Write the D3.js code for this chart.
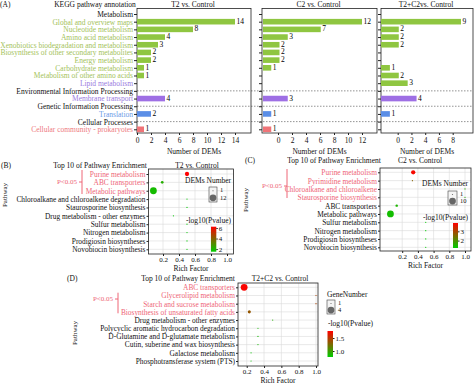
<!DOCTYPE html>
<html lang="en">
<head>
<meta charset="UTF-8">
<title>KEGG DEMs</title>
<script src="https://cdn.jsdelivr.net/npm/d3@7"></script>
<style>
	body { margin: 0; background: #fff; }
	text { font-family: "Liberation Serif", "Times New Roman", serif; }
</style>
</head>
<body>
<div id="container"></div>
<script>
var width = 474, height = 384;

// ---------- (A) KEGG annotation ----------
var keggRows = ["Metabolism", "Global and overview maps", "Nucleotide metabolism", "Amino acid metabolism",
	"Xenobiotics biodegradation and metabolism", "Biosynthesis of other secondary metabolites",
	"Energy metabolism", "Carbohydrate metabolism", "Metabolism of other amino acids", "Lipid metabolism",
	"Environmental Information Processing", "Membrane transport", "Genetic Information Processing",
	"Translation", "Cellular Processes", "Cellular community - prokaryotes"];
var keggKind = ["head", "met", "met", "met", "met", "met", "met", "met", "met", "lipid",
	"head", "env", "head", "gen", "head", "cell"];
var t2Counts   = [null, 14, 8, 4, 3, 2, 2, 1, 1, 0, null, 4, null, 2, null, 1];
var c2Counts   = [null, 12, 7, 3, 2, 2, 2, 1, 0, 0, null, 3, null, 1, null, 1];
var t2c2Counts = [null, 9, 2, 2, 2, 0, 0, 1, 2, 3, null, 4, null, 1, null, 0];
var t2Ticks = [0, 2, 4, 6, 8, 10, 12, 14];
var c2Ticks = [0, 2, 4, 6, 8, 10, 12];
var t2c2Ticks = [0, 2, 4, 6, 8];

// ---------- (B) T2 enrichment ----------
var bPaths = ["Purine metabolism", "ABC transporters", "Metabolic pathways",
	"Chloroalkane and chloroalkene degradation", "Staurosporine biosynthesis",
	"Drug metabolism - other enzymes", "Sulfur metabolism", "Nitrogen metabolism",
	"Prodigiosin biosyntheses", "Novobiocin biosynthesis"];
var bRich  = [0.5, 0.19, 0.08, 0.5, 0.5, 0.33, 0.5, 0.5, 0.5, 0.5];
var bCount = [7, 4, 12, 1, 1, 1, 1, 1, 1, 1];
var bLogP  = [6.3, 2.2, 1.9, 1.2, 1.2, 1.0, 1.0, 1.0, 1.0, 1.0];
var bColorTicks = [2, 4, 6];

// ---------- (C) C2 enrichment ----------
var cPaths = ["Purine metabolism", "Pyrimidine metabolism", "Chloroalkane and chloroalkene",
	"Staurosporine biosynthesis", "ABC transporters", "Metabolic pathways", "Sulfur metabolism",
	"Nitrogen metabolism", "Prodigiosin biosyntheses", "Novobiocin biosynthesis"];
var cRich  = [0.34, 0.33, 1.0, 1.0, 0.13, 0.05, 0.5, 0.5, 0.5, 0.5];
var cCount = [6, 1, 1, 1, 3, 10, 1, 1, 1, 1];
var cLogP  = [3.8, 2.6, 1.6, 1.6, 1.5, 1.4, 0.8, 0.8, 0.8, 0.8];
var cColorTicks = [2, 3];

// ---------- (D) T2+C2 enrichment ----------
var dPaths = ["ABC transporters", "Glycerolipid metabolism", "Starch and sucrose metabolism",
	"Biosynthesis of unsaturated fatty acids", "Drug metabolism - other enzymes",
	"Polycyclic aromatic hydrocarbon degradation", "D-Glutamine and D-glutamate metabolism",
	"Cutin, suberine and wax biosynthesis", "Galactose metabolism", "Phosphotransferase system (PTS)"];
var dRich  = [0.17, 1.0, 1.0, 0.23, 0.5, 0.33, 0.33, 0.33, 0.25, 0.25];
var dCount = [4, 1, 1, 2, 1, 1, 1, 1, 1, 1];
var dLogP  = [1.75, 1.45, 1.45, 1.35, 0.9, 0.85, 0.85, 0.85, 0.8, 0.8];
var dColorTicks = [1.0, 1.5];

var richTicks = [0.2, 0.4, 0.6, 0.8, 1.0];

var barColor = {met: "#8fc641", lipid: "#8fc641", env: "#9e6fe4", gen: "#5b8ee6", cell: "#f07478"};
var labelColor = {head: "#111", met: "#a3c25a", lipid: "#9a7be0", env: "#9a7be0", gen: "#6a9ae6", cell: "#ee7a80"};
var sigRed = "#ee6677";

var svg = d3.select("#container").append("svg")
	.attr("width", width)
	.attr("height", height)
	.style("background", "#fff");

function txt(x, y, s, size, anchor, color) {
	return svg.append("text")
		.attr("x", x).attr("y", y)
		.attr("text-anchor", anchor || "start")
		.attr("dominant-baseline", "middle")
		.style("font-size", size + "px")
		.style("fill", color || "#111")
		.text(s);
}

// ---------------- panel A ----------------
var boxTop = 8.5, boxBottom = 133;
var rowY = d3.scalePoint().domain(d3.range(keggRows.length)).range([14, 129.3]);

txt(0, 5, "(A)", 7.5);
txt(95, 5, "KEGG pathway annotation", 7.5, "middle");

var panelsA = [
	{title: "T2  vs.  Control", counts: t2Counts, ticks: t2Ticks, x0: 137, x1: 251,
		axisDom: [0, 14], axisRange: [137, 235], barDom: [0, 14], barRange: [137, 235], labels: true},
	{title: "C2  vs.  Control", counts: c2Counts, ticks: c2Ticks, x0: 262, x1: 377,
		axisDom: [0, 12], axisRange: [278, 362], barDom: [0, 12], barRange: [263, 362], labels: false},
	{title: "T2+C2vs.  Control", counts: t2c2Counts, ticks: t2c2Ticks, x0: 381, x1: 473,
		axisDom: [0, 8], axisRange: [397.7, 452.7], barDom: [0, 9], barRange: [381, 461], labels: false}
];

// dotted separators at category headers
[10, 12, 14].forEach(function(i) {
	svg.append("line")
		.attr("x1", 137).attr("x2", 473)
		.attr("y1", rowY(i)).attr("y2", rowY(i))
		.style("stroke", "#777").style("stroke-width", 0.8)
		.style("stroke-dasharray", "1.5,1.5");
});

panelsA.forEach(function(p) {
	var xa = d3.scaleLinear().domain(p.axisDom).range(p.axisRange);
	var xb = d3.scaleLinear().domain(p.barDom).range(p.barRange);

	svg.append("rect")
		.attr("x", p.x0).attr("y", boxTop)
		.attr("width", p.x1 - p.x0).attr("height", boxBottom - boxTop)
		.style("fill", "none").style("stroke", "#222").style("stroke-width", 0.8);

	var ya = svg.append("g")
		.attr("transform", "translate(" + p.x0 + ",0)")
		.call(d3.axisLeft(rowY).tickSize(3).tickPadding(1)
			.tickFormat(function(i) { return p.labels ? keggRows[i] : ""; }));
	ya.select(".domain").remove();
	ya.selectAll("line").style("stroke", "#222");
	ya.selectAll("text")
		.style("font-family", "Liberation Serif")
		.style("font-size", "7.5px")
		.style("fill", function(i) { return labelColor[keggKind[i]]; });

	var rows = d3.range(keggRows.length).filter(function(i) { return p.counts[i] > 0; });

	svg.selectAll(null).data(rows).enter().append("rect")
		.attr("x", xb(0))
		.attr("y", function(i) { return rowY(i) - 2.8; })
		.attr("width", function(i) { return xb(p.counts[i]) - xb(0); })
		.attr("height", 5.6)
		.style("fill", function(i) { return barColor[keggKind[i]]; });

	svg.selectAll(null).data(rows).enter().append("text")
		.attr("x", function(i) { return xb(p.counts[i]) + 1.5; })
		.attr("y", function(i) { return rowY(i) + 0.3; })
		.attr("dominant-baseline", "middle")
		.style("font-size", "7.5px")
		.text(function(i) { return p.counts[i]; });

	var xaG = svg.append("g")
		.attr("transform", "translate(0," + boxBottom + ")")
		.call(d3.axisBottom(xa).tickValues(p.ticks).tickSize(2).tickPadding(3));
	xaG.select(".domain").remove();
	xaG.selectAll("line").style("stroke", "#222");
	xaG.selectAll("text").style("font-family", "Liberation Serif").style("font-size", "7.5px").style("fill", "#111");

	var cx = (p.x0 + p.x1) / 2;
	txt(cx, 152, "Number of DEMs", 7.5, "middle");
	txt(cx - 1, 5, p.title, 7.5, "middle");
});

// ---------------- enrichment panels ----------------
function drawEnrich(p) {
	var x = d3.scaleLinear().domain([0, 1]).range(p.xr);
	var y = d3.scalePoint().domain(d3.range(p.paths.length)).range(p.yr);
	var r = d3.scaleLinear().domain([1, d3.max(p.count)]).range([0.6, 3.4]);
	var col = d3.scaleLinear().domain(p.cdom).range(["#00cc00", "#ff0000"]).clamp(true);

	txt(p.tag[0], p.tag[1], p.tagText, 7.5);
	txt(p.top[0], p.top[1], "Top 10 of Pathway Enrichment", 7.5, "middle");
	txt(p.ttl[0], p.ttl[1], p.title, 7.5, "middle");

	svg.append("rect")
		.attr("x", p.box[0]).attr("y", p.box[1])
		.attr("width", p.box[2] - p.box[0]).attr("height", p.box[3] - p.box[1])
		.style("fill", "#fff");

	svg.selectAll(null).data(richTicks).enter().append("line")
		.attr("x1", function(d) { return x(d); }).attr("x2", function(d) { return x(d); })
		.attr("y1", p.box[1]).attr("y2", p.box[3])
		.style("stroke", "#dadada").style("stroke-width", 0.6);
	svg.selectAll(null).data(d3.range(p.paths.length)).enter().append("line")
		.attr("x1", p.box[0]).attr("x2", p.box[2])
		.attr("y1", function(i) { return y(i); }).attr("y2", function(i) { return y(i); })
		.style("stroke", "#dadada").style("stroke-width", 0.6);

	svg.selectAll(null).data(d3.range(p.paths.length)).enter().append("circle")
		.attr("cx", function(i) { return x(p.rich[i]); })
		.attr("cy", function(i) { return y(i); })
		.attr("r", function(i) { return r(p.count[i]); })
		.style("fill", function(i) { return col(p.logp[i]); });

	svg.append("rect")
		.attr("x", p.box[0]).attr("y", p.box[1])
		.attr("width", p.box[2] - p.box[0]).attr("height", p.box[3] - p.box[1])
		.style("fill", "none").style("stroke", "#222").style("stroke-width", 0.8);

	var ya = svg.append("g")
		.attr("transform", "translate(" + p.box[0] + ",0)")
		.call(d3.axisLeft(y).tickSize(2).tickPadding(1).tickFormat(function(i) { return p.paths[i]; }));
	ya.select(".domain").remove();
	ya.selectAll("line").style("stroke", "#222");
	ya.selectAll("text")
		.style("font-family", "Liberation Serif").style("font-size", "7.4px")
		.style("fill", function(i) { return i < p.sig ? sigRed : "#111"; });

	var xa = svg.append("g")
		.attr("transform", "translate(0," + p.box[3] + ")")
		.call(d3.axisBottom(x).tickValues(richTicks).tickSize(2).tickPadding(1.5).tickFormat(d3.format(".1f")));
	xa.select(".domain").remove();
	xa.selectAll("line").style("stroke", "#222");
	xa.selectAll("text").style("font-family", "Liberation Serif").style("font-size", "7px").style("fill", "#111");

	txt((p.box[0] + p.box[2]) / 2, p.box[3] + 15.5, "Rich Factor", 7.5, "middle");

	// P<0.05 bracket
	var bx = p.bracket[0];
	svg.append("line").attr("x1", bx).attr("x2", bx).attr("y1", p.bracket[1]).attr("y2", p.bracket[2])
		.style("stroke", sigRed).style("stroke-width", 1);
	svg.append("line").attr("x1", bx - 3).attr("x2", bx).attr("y1", p.bracket[3]).attr("y2", p.bracket[3])
		.style("stroke", sigRed).style("stroke-width", 1);
	txt(bx - 5, p.bracket[3], "P<0.05", 7, "end", sigRed);

	svg.append("text")
		.attr("transform", "translate(" + p.pathway[0] + "," + p.pathway[1] + ") rotate(-90)")
		.attr("text-anchor", "middle").attr("dominant-baseline", "middle")
		.style("font-size", "7px").style("fill", "#111").text("Pathway");

	// size legend
	var L = p.leg;
	txt(L.x, L.y, p.sizeTitle, 7.5);
	svg.append("rect").attr("x", L.kx).attr("y", L.ky).attr("width", L.kw).attr("height", L.kh)
		.style("fill", "#f4f4f4").style("stroke", "#444").style("stroke-width", 0.6);
	var sizes = [1, d3.max(p.count)];
	svg.selectAll(null).data(sizes).enter().append("circle")
		.attr("cx", L.kx + L.kw / 2)
		.attr("cy", function(d, i) { return L.ky + (i === 0 ? L.kh * 0.25 : L.kh * 0.72); })
		.attr("r", function(d) { return r(d); })
		.style("fill", "#666");
	svg.selectAll(null).data(sizes).enter().append("text")
		.attr("x", L.kx + L.kw + 3)
		.attr("y", function(d, i) { return L.ky + (i === 0 ? L.kh * 0.25 : L.kh * 0.78); })
		.attr("dominant-baseline", "middle")
		.style("font-size", "6.5px").style("fill", "#111")
		.text(function(d) { return d; });

	// colour legend
	txt(L.x + 1, L.cy, "-log10(Pvalue)", 7.5);
	var gid = "g" + p.tagText.replace(/\W/g, "");
	var grad = svg.append("defs").append("linearGradient")
		.attr("id", gid)
		.attr("x1", 0).attr("x2", 0).attr("y1", 1).attr("y2", 0);
	grad.append("stop").attr("offset", 0).attr("stop-color", col(p.cdom[0]));
	grad.append("stop").attr("offset", 0.5).attr("stop-color", col((p.cdom[0] + p.cdom[1]) / 2));
	grad.append("stop").attr("offset", 1).attr("stop-color", col(p.cdom[1]));
	svg.append("rect").attr("x", L.bx).attr("y", L.by).attr("width", L.bw).attr("height", L.bh)
		.style("fill", "url(#" + gid + ")");
	var cb = d3.scaleLinear().domain(p.cdom).range([L.by + L.bh, L.by]);
	var cbG = svg.append("g")
		.attr("transform", "translate(" + (L.bx + L.bw) + ",0)")
		.call(d3.axisRight(cb).tickValues(p.cticks).tickSize(1.5).tickPadding(1)
			.tickFormat(p.cfmt));
	cbG.select(".domain").remove();
	cbG.selectAll("line").style("stroke", "#222");
	cbG.selectAll("text").style("font-family", "Liberation Serif").style("font-size", "7px").style("fill", "#111");
}

drawEnrich({
	tagText: "(B)", tag: [1, 166], top: [100, 166], ttl: [197, 166], title: "T2  vs.  Control",
	paths: bPaths, rich: bRich, count: bCount, logp: bLogP, sig: 3,
	box: [148.5, 169, 233.5, 254], xr: [147, 227], yr: [174, 249.3],
	cdom: [1.5, 6.25], cticks: bColorTicks, cfmt: d3.format("d"),
	bracket: [82, 170, 194, 182], pathway: [5, 195], sizeTitle: "DEMs Number",
	leg: {x: 185, y: 181, kx: 209, ky: 187, kw: 8, kh: 15, cy: 221, bx: 211, by: 226.7, bw: 5.3, bh: 25}
});

drawEnrich({
	tagText: "(C)", tag: [245, 161], top: [334, 161], ttl: [420, 161], title: "C2  vs.  Control",
	paths: cPaths, rich: cRich, count: cCount, logp: cLogP, sig: 4,
	box: [380, 168, 471, 251], xr: [386.5, 465], yr: [172.3, 247.3],
	cdom: [1.2, 3.9], cticks: cColorTicks, cfmt: d3.format("d"),
	bracket: [287, 169, 198, 186], pathway: [246, 200], sizeTitle: "DEMs Number",
	leg: {x: 422, y: 184, kx: 448, ky: 191, kw: 9, kh: 14, cy: 218, bx: 453, by: 223, bw: 5, bh: 25}
});

drawEnrich({
	tagText: "(D)", tag: [67, 279], top: [188, 279], ttl: [280, 279], title: "T2+C2 vs.  Control",
	paths: dPaths, rich: dRich, count: dCount, logp: dLogP, sig: 4,
	box: [238, 283, 318, 366], xr: [229.4, 316], yr: [287.3, 361],
	cdom: [0.77, 1.77], cticks: dColorTicks, cfmt: d3.format(".1f"),
	bracket: [118, 292.7, 313.3, 299], pathway: [75, 333], sizeTitle: "GeneNumber",
	leg: {x: 327, y: 295, kx: 327, ky: 300, kw: 8, kh: 14, cy: 324, bx: 327.5, by: 331, bw: 5.5, bh: 26}
});
</script>
</body>
</html>
